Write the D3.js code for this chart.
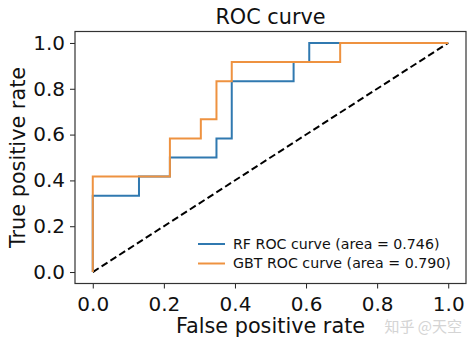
<!DOCTYPE html>
<html>
<head>
<meta charset="utf-8">
<script src="https://cdn.jsdelivr.net/npm/d3@7"></script>
<style>
  html, body { margin: 0; padding: 0; background: #fff; }
  svg { display: block; font-family: "DejaVu Sans", sans-serif; }
</style>
</head>
<body>
<svg id="chart" width="474" height="346"></svg>
<script>
// ROC curve points (false positive rate / true positive rate) for each model
const rfFpr  = [0, 0, 0.130, 0.130, 0.217, 0.217, 0.348, 0.348, 0.391, 0.391, 0.565, 0.565, 0.609, 0.609, 1.0];
const rfTpr  = [0, 0.333, 0.333, 0.417, 0.417, 0.5, 0.5, 0.583, 0.583, 0.833, 0.833, 0.917, 0.917, 1.0, 1.0];
const gbtFpr = [0, 0, 0.217, 0.217, 0.304, 0.304, 0.348, 0.348, 0.391, 0.391, 0.696, 0.696, 1.0];
const gbtTpr = [0, 0.417, 0.417, 0.583, 0.583, 0.667, 0.667, 0.833, 0.833, 0.917, 0.917, 1.0, 1.0];
const chanceLine = [[0, 0], [1, 1]];

const seriesNames = ["RF ROC curve (area = 0.746)", "GBT ROC curve (area = 0.790)"];
const seriesColors = ["#3079b0", "#ee9240"];
const tickValues = [0, 0.2, 0.4, 0.6, 0.8, 1.0];

const svg = d3.select("#chart");
const plot = { left: 75, right: 466, top: 31.5, bottom: 283.5 };

const x = d3.scaleLinear().domain([-0.05, 1.05]).range([plot.left, plot.right]);
const y = d3.scaleLinear().domain([-0.05, 1.05]).range([plot.bottom, plot.top]);

const line = d3.line().x(d => x(d[0])).y(d => y(d[1]));

// chance diagonal
svg.append("path")
  .datum(chanceLine)
  .attr("d", line)
  .attr("fill", "none")
  .attr("stroke", "#000")
  .attr("stroke-width", 2)
  .attr("stroke-dasharray", "7,3.5");

const series = [
  d3.zip(rfFpr, rfTpr),
  d3.zip(gbtFpr, gbtTpr)
];

series.forEach((pts, i) => {
  svg.append("path")
    .datum(pts)
    .attr("d", line)
    .attr("fill", "none")
    .attr("stroke", seriesColors[i])
    .attr("stroke-width", 2)
    .attr("stroke-linejoin", "miter");
});

// axes
const fmt = d3.format(".1f");
const xAxis = svg.append("g")
  .attr("transform", `translate(0,${plot.bottom})`)
  .call(d3.axisBottom(x).tickValues(tickValues).tickFormat(fmt).tickSize(5).tickPadding(4).tickSizeOuter(0));
const yAxis = svg.append("g")
  .attr("transform", `translate(${plot.left},0)`)
  .call(d3.axisLeft(y).tickValues(tickValues).tickFormat(fmt).tickSize(5).tickPadding(5).tickSizeOuter(0));

[xAxis, yAxis].forEach(g => {
  g.select(".domain").remove();
  g.selectAll("text").attr("font-size", 20).attr("fill", "#111").attr("font-family", "DejaVu Sans");
  g.selectAll("line").attr("stroke", "#222");
});
xAxis.selectAll("text").attr("dy", "0.9em");

// frame
svg.append("rect")
  .attr("x", plot.left).attr("y", plot.top)
  .attr("width", plot.right - plot.left).attr("height", plot.bottom - plot.top)
  .attr("fill", "none").attr("stroke", "#333").attr("stroke-width", 1.2);

// title and axis labels
svg.append("text")
  .attr("x", (plot.left + plot.right) / 2).attr("y", 24)
  .attr("text-anchor", "middle").attr("font-size", 20.8).attr("fill", "#111")
  .text("ROC curve");

svg.append("text")
  .attr("x", (plot.left + plot.right) / 2).attr("y", 333)
  .attr("text-anchor", "middle").attr("font-size", 20.8).attr("fill", "#111")
  .text("False positive rate");

svg.append("text")
  .attr("transform", `translate(25,${(plot.top + plot.bottom) / 2}) rotate(-90)`)
  .attr("text-anchor", "middle").attr("font-size", 20.8).attr("fill", "#111")
  .text("True positive rate");

// legend
const legend = svg.append("g").attr("transform", "translate(198,244)");
seriesNames.forEach((name, i) => {
  const row = legend.append("g").attr("transform", `translate(0,${i * 19.5})`);
  row.append("line").attr("x1", 0).attr("x2", 27).attr("y1", 0).attr("y2", 0)
    .attr("stroke", seriesColors[i]).attr("stroke-width", 2);
  row.append("text").attr("x", 35).attr("y", 0).attr("dy", "0.35em")
    .attr("font-size", 14.2).attr("fill", "#111").text(name);
});

// watermark
svg.append("text")
  .attr("x", 462).attr("y", 332)
  .attr("text-anchor", "end").attr("font-size", 15)
  .attr("font-family", "Noto Sans CJK SC").attr("fill", "#d4d4d4")
  .text("知乎 @天空");
</script>
</body>
</html>
